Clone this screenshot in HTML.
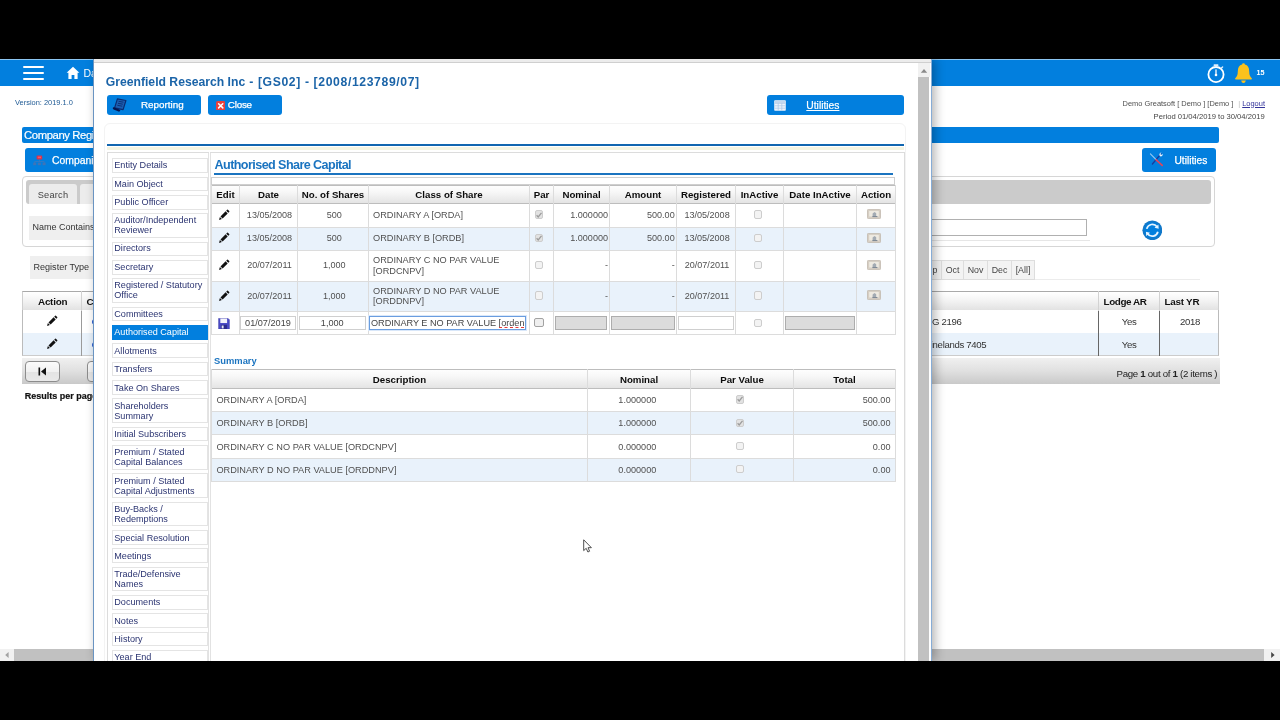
<!DOCTYPE html>
<html>
<head>
<meta charset="utf-8">
<title>Company Register</title>
<style>
*{box-sizing:border-box;margin:0;padding:0}
html,body{width:1280px;height:720px;overflow:hidden;background:#000;font-family:"Liberation Sans",sans-serif;}
.abs{position:absolute}
#screen{will-change:transform;position:absolute;left:0;top:59px;width:1280px;height:602px;background:#fff;overflow:hidden}
/* everything inside #screen uses page coords minus 59 in y: use wrapper shifted */
#pg{position:absolute;left:0;top:-59px;width:1280px;height:720px}
.blue{background:#027fde}
.txt{position:absolute;white-space:nowrap;line-height:1}
/* ---------- background page ---------- */
#nav{left:0;top:59px;width:1280px;height:27px;background:#027fde;border-top:1px solid #8cc6f2}
.hb{left:23px;width:21px;height:2px;background:#fff;border-radius:1px}
#crbar{left:22px;top:127px;width:1197px;height:16px;background:#027fde;border-radius:2px}
.bbtn{background:#027fde;border-radius:3px;color:#fff}
#spanel{left:22px;top:176px;width:1193px;height:71px;border:1px solid #d6d6d6;border-radius:4px;background:#fff}
#tabbar{left:26px;top:180px;width:1185px;height:24px;background:#cbcbcb;border-radius:3px}
.tab{top:184px;height:20px;background:#ececec;border-radius:3px 3px 0 0;color:#444;font-size:9.25px;text-align:center;line-height:22px;letter-spacing:.2px}
.lbl{background:#efefef;color:#333;font-size:9.3px}
.mtab{top:260px;height:20px;border:1px solid #ddd;background:#f3f3f3;color:#444;font-size:8.8px;line-height:18px;text-align:center}
.gh{background:linear-gradient(#ffffff 0%,#f4f4f4 45%,#e2e2e2 100%)}
.bgalt{background:#e9f2fb}
/* ---------- modal ---------- */
#modal{left:93px;top:59px;width:839px;height:602px;background:#fff;border-left:1px solid #6a94c2;border-right:1px solid #86acd6;box-shadow:3px 0 10px rgba(0,0,0,.3);overflow:hidden}
#modal .in{position:absolute;left:-94px;top:-59px;width:1280px;height:720px}
#mtitle{left:94px;top:59px;width:837px;height:4px;background:#ececec;border-bottom:1px solid #cfcfcf}
.mi{position:absolute;left:112px;width:96px;border:1px solid #e4e4e4;color:#2b3471;font-size:9.1px;line-height:10px;padding:1.05px 0 0 1.3px;background:#fff;white-space:nowrap}
.mi.s{height:14.67px}
.mi.d{height:24.67px}
.mi.act{background:#027fde;color:#fff;border-color:#027fde}
table.g{position:absolute;border-collapse:collapse;table-layout:fixed;font-size:8.9px;color:#444}
table.g td,table.g th{border:1px solid #d9d9d9;overflow:hidden;white-space:nowrap;padding:0}
table.g th{font-weight:bold;color:#111;font-size:9.6px;text-align:center}
table.g tr.a td{background:#e9f2fb}
.r{text-align:right}.c{text-align:center}.l{text-align:left}
.cb{display:inline-block;width:8px;height:8px;border:1px solid #c9c9c9;border-radius:2px;background:#f3f3f3;vertical-align:middle;position:relative}
.cb.k{background:#e4e4e4}
.cb.en{border-color:#8a8a8a;background:#fff;width:9px;height:9px}
.ipt{display:inline-block;height:11px;border:1px solid #c4c4c4;background:#fff;vertical-align:middle}
.ipt.dis{background:#dedede;border-color:#a9a9a9}
.gc{font-size:9.05px;color:#505050;white-space:nowrap;overflow:hidden}
.gc.gh2{font-weight:bold;color:#0c0c0c;font-size:9.7px}
.gc.ip{font-size:9.15px;color:#454545}
.gc.sn{font-size:9.1px}
.gc.cl{font-size:9.2px}
.sq{text-decoration:underline;text-decoration-style:wavy;text-decoration-color:#e02020;text-decoration-thickness:1px}
.bh{font-size:9.9px;font-weight:bold;color:#111;letter-spacing:-.25px}
.bc{font-size:9.6px;color:#333;letter-spacing:-.32px}
</style>
</head>
<body>
<div id="screen"><div id="pg">

<!-- ================= BACKGROUND PAGE ================= -->
<div id="nav" class="abs"></div>
<div class="abs hb" style="top:66px"></div>
<div class="abs hb" style="top:72px"></div>
<div class="abs hb" style="top:78px"></div>
<svg class="abs" style="left:66px;top:66px" width="14" height="14" viewBox="0 0 14 14"><path d="M7 0.8 L0.6 6.8 H2.4 V13 H5.6 V9 H8.4 V13 H11.6 V6.8 H13.4 Z" fill="#fff"/></svg>
<div class="txt" id="dash" style="left:83.5px;top:68px;color:#fff;font-size:10.5px">Dashboard</div>

<div class="txt" style="left:15px;top:99px;font-size:7.45px;color:#1f5a94">Version: 2019.1.0</div>

<div id="crbar" class="abs"></div>
<div class="txt" id="creg" style="left:24px;top:129.5px;color:#fff;font-size:11.3px;letter-spacing:-.4px;-webkit-text-stroke:.2px #fff">Company Register</div>

<div class="abs bbtn" style="left:25px;top:148px;width:120px;height:24px"></div>
<svg class="abs" style="left:33px;top:154.5px" width="13" height="12" viewBox="0 0 13 12"><rect x="3.6" y="0.6" width="5.6" height="4" rx="0.8" fill="#d8324a"/><rect x="4.8" y="1.6" width="3.2" height="1.6" fill="#f05a6a"/><path d="M6.4 4.6 V6.6 M1.6 8 V6.6 H11.2 V8" stroke="#3d78bf" stroke-width="0.8" fill="none"/><rect x="0.2" y="7.6" width="3" height="2.6" fill="#3f74b6"/><rect x="4.9" y="7.6" width="3" height="2.6" fill="#3f74b6"/><rect x="9.6" y="7.6" width="3" height="2.6" fill="#3f74b6"/></svg>
<div class="txt" id="comp" style="left:52px;top:155.6px;color:#fff;font-size:10.4px;-webkit-text-stroke:.25px #fff">Companies</div>

<div id="spanel" class="abs"></div>
<div id="tabbar" class="abs"></div>
<div class="abs tab" style="left:29px;width:48px">Search</div>
<div class="abs tab" style="left:80px;width:48px">Filter</div>
<div class="abs lbl" style="left:29px;top:216px;width:80px;height:24px"></div>
<div class="txt" id="nc" style="left:32.5px;top:223px;font-size:9.0px;color:#333">Name Contains</div>
<div class="abs" style="left:100px;top:219px;width:987px;height:17px;border:1px solid #b0b0b0;background:#fff"></div>
<div class="abs" style="left:100px;top:240px;width:990px;height:1px;background:#e6e6e6"></div>

<div class="abs lbl" style="left:30px;top:256px;width:80px;height:23px"></div>
<div class="txt" id="rt" style="left:33.5px;top:263.3px;font-size:9.05px;color:#333">Register Type</div>

<div class="abs" style="left:100px;top:279px;width:1100px;height:1px;background:#ececec"></div>
<div class="abs mtab" style="left:917px;width:25px">Sep</div>
<div class="abs mtab" style="left:941px;width:23px">Oct</div>
<div class="abs mtab" style="left:963px;width:25px">Nov</div>
<div class="abs mtab" style="left:987px;width:25px">Dec</div>
<div class="abs mtab" style="left:1011px;width:24px">[All]</div>

<!-- background grid -->
<div class="abs gh" style="left:22px;top:291px;width:1197px;height:20px;border:1px solid #cfcfcf;border-top-color:#a9a9a9"></div>
<div class="abs" style="left:22px;top:310px;width:1197px;height:23px;background:#fff;border-left:1px solid #bbb;border-right:1px solid #bbb"></div>
<div class="abs bgalt" style="left:22px;top:333px;width:1197px;height:23px;border-left:1px solid #bbb;border-right:1px solid #bbb;border-bottom:1px solid #ccc"></div>
<div class="abs" style="left:81px;top:291px;width:1px;height:20px;background:#d2d2d2"></div>
<div class="abs" style="left:81px;top:311px;width:1px;height:45px;background:#9a9a9a"></div>
<div class="abs" style="left:1098px;top:291px;width:1px;height:20px;background:#d2d2d2"></div>
<div class="abs" style="left:1098px;top:311px;width:1px;height:45px;background:#666"></div>
<div class="abs" style="left:1159px;top:291px;width:1px;height:20px;background:#d2d2d2"></div>
<div class="abs" style="left:1159px;top:311px;width:1px;height:45px;background:#666"></div>
<svg class="abs" style="left:46px;top:314.6px" width="12" height="12" viewBox="0 0 12 12"><path d="M1 11 L1.9 8.1 L3.9 10.1 Z M2.5 7.4 L7.6 2.3 L9.7 4.4 L4.6 9.5 Z M8.2 1.7 L9.1 0.8 Q9.5 0.4 9.9 0.8 L11.2 2.1 Q11.6 2.5 11.2 2.9 L10.3 3.8 Z" fill="#111"/></svg>
<svg class="abs" style="left:46px;top:337.6px" width="12" height="12" viewBox="0 0 12 12"><path d="M1 11 L1.9 8.1 L3.9 10.1 Z M2.5 7.4 L7.6 2.3 L9.7 4.4 L4.6 9.5 Z M8.2 1.7 L9.1 0.8 Q9.5 0.4 9.9 0.8 L11.2 2.1 Q11.6 2.5 11.2 2.9 L10.3 3.8 Z" fill="#111"/></svg>
<div class="txt bh" id="bh1" style="left:38px;top:296.5px">Action</div>
<div class="txt bh" style="left:86.6px;top:296.5px">Code</div>
<div class="txt bc" style="left:91.6px;top:317px;color:#2a5bd0">GS02</div>
<div class="txt bc" style="left:91.6px;top:340px;color:#2a5bd0">GS03</div>
<div class="txt bh" id="bh2" style="left:1103.6px;top:296.5px;letter-spacing:-.42px">Lodge AR</div>
<div class="txt bh" id="bh3" style="left:1164.5px;top:296.5px">Last YR</div>
<div class="txt bc" id="bc1" style="left:932px;top:317px">G 2196</div>
<div class="txt bc" id="bc2" style="left:930.8px;top:340px">inelands 7405</div>
<div class="txt bc" id="bc3" style="left:1121.8px;top:317px">Yes</div>
<div class="txt bc" id="bc4" style="left:1121.8px;top:340px">Yes</div>
<div class="txt bc" id="bc5" style="left:1180px;top:317px">2018</div>

<div class="abs" style="left:22px;top:358px;width:1198px;height:26px;background:linear-gradient(#f0f0f0,#e0e0e0 50%,#c9c9c9)"></div>
<div class="abs" style="left:25px;top:361px;width:35px;height:21px;border:1px solid #8c8c8c;border-radius:4px;background:linear-gradient(#fbfbfb 0%,#f1f1f1 50%,#e3e3e3 51%,#e9e9e9 100%)"></div>
<div class="abs" style="left:87px;top:361px;width:35px;height:21px;border:1px solid #8c8c8c;border-radius:4px;background:linear-gradient(#fbfbfb 0%,#f1f1f1 50%,#e3e3e3 51%,#e9e9e9 100%)"></div>
<svg class="abs" style="left:38px;top:367px" width="9" height="9" viewBox="0 0 9 9"><rect x="0.5" y="0.5" width="1.6" height="8" fill="#111"/><path d="M8 0.5 V8.5 L3 4.5 Z" fill="#111"/></svg>
<div class="txt" id="pgr" style="left:1116.5px;top:369px;font-size:9.7px;letter-spacing:-.31px;color:#222">Page <b>1</b> out of <b>1</b> (2 items )</div>
<div class="txt" id="rpp" style="left:24.7px;top:391.5px;font-size:9.0px;font-weight:bold;color:#111;-webkit-text-stroke:.2px #111">Results per page</div>

<svg class="abs" style="left:1205px;top:62px" width="22" height="23" viewBox="0 0 22 23"><circle cx="11" cy="12.6" r="7.6" fill="none" stroke="#fff" stroke-width="1.8"/><rect x="8.6" y="2.2" width="4.8" height="1.7" rx="0.5" fill="#dfeefc"/><rect x="10.3" y="3.4" width="1.4" height="1.8" fill="#dfeefc"/><path d="M16.2 6.2 L17.6 4.9" stroke="#dfeefc" stroke-width="1.4" stroke-linecap="round"/><path d="M11 7.8 V12.6" stroke="#fff" stroke-width="1.3" stroke-linecap="round"/><circle cx="11" cy="13" r="1.3" fill="#fff"/></svg>
<svg class="abs" style="left:1234px;top:62px" width="19" height="22" viewBox="0 0 19 22"><path d="M9.5 1.2 Q10.9 1.2 10.9 2.6 Q15.2 3.8 15.2 9.4 Q15.2 14 17.8 16.2 Q18.2 17.4 17 17.6 H2 Q0.8 17.4 1.2 16.2 Q3.8 14 3.8 9.4 Q3.8 3.8 8.1 2.6 Q8.1 1.2 9.5 1.2 Z" fill="#fbc21d"/><path d="M7.2 18.4 H11.8 Q11.4 21 9.5 21 Q7.6 21 7.2 18.4 Z" fill="#fbc21d"/></svg>
<div class="txt" id="n15" style="left:1256.6px;top:69px;color:#fff;font-size:7.2px;font-weight:bold">15</div>
<svg class="abs" style="left:1141.6px;top:219.6px" width="20.6" height="20.6" viewBox="0 0 20 20"><circle cx="10" cy="10" r="9.6" fill="#1178c9"/><circle cx="10" cy="10" r="7.6" fill="#027fde"/><path d="M4.6 8.6 A5.6 5.6 0 0 1 14.6 6.6" fill="none" stroke="#e6f4ff" stroke-width="1.7"/><path d="M15.9 4.4 L16.2 8.6 L12.2 7.6 Z" fill="#e6f4ff"/><path d="M15.4 11.4 A5.6 5.6 0 0 1 5.4 13.4" fill="none" stroke="#e6f4ff" stroke-width="1.7"/><path d="M4.1 15.6 L3.8 11.4 L7.8 12.4 Z" fill="#e6f4ff"/></svg>
<!-- right header text -->
<div class="txt" id="usr" style="left:1122.6px;top:99.5px;font-size:7.45px;color:#505050">Demo Greatsoft [ Demo ] [Demo ] &nbsp;<span style="color:#bbb;margin-left:.7px">|</span> <span style="color:#33339a;text-decoration:underline">Logout</span></div>
<div class="txt" id="per" style="left:1153.6px;top:112.8px;font-size:7.64px;color:#444">Period 01/04/2019 to 30/04/2019</div>

<div class="abs bbtn" style="left:1142px;top:148px;width:74px;height:24px"></div>
<svg class="abs" style="left:1149px;top:152px" width="15" height="15" viewBox="0 0 15 15"><path d="M12 1.8 L3.4 12" stroke="#1b3a9c" stroke-width="1.3" stroke-linecap="round"/><path d="M12.4 0.6 Q10 1 10.4 3.6 L11.6 4.6 Q14 4.2 13.6 1.8 L12.2 3 L11.4 2 Z" fill="#e8f2fc"/><path d="M1.4 1.8 L7.6 8.2" stroke="#9ccaf2" stroke-width="1.1" stroke-linecap="round"/><path d="M7.2 7.8 L13.2 13.4" stroke="#e0455a" stroke-width="1.7" stroke-linecap="round"/></svg>
<div class="txt" id="put" style="left:1174.5px;top:155.6px;color:#fff;font-size:10.2px;-webkit-text-stroke:.25px #fff">Utilities</div>

<!-- bottom horizontal scrollbar -->
<div class="abs" style="left:0;top:649px;width:1280px;height:12px;background:#c1c1c1"></div>
<div class="abs" style="left:0;top:649px;width:14px;height:12px;background:#f1f1f1"></div>
<div class="abs" style="left:1264px;top:649px;width:16px;height:12px;background:#f1f1f1"></div>
<svg class="abs" style="left:5px;top:652px" width="4" height="6" viewBox="0 0 4 6"><path d="M3.6 0 V6 L0.2 3 Z" fill="#a3a3a3"/></svg>
<svg class="abs" style="left:1271px;top:652px" width="4" height="6" viewBox="0 0 4 6"><path d="M0.2 0 V6 L3.6 3 Z" fill="#454545"/></svg>

<!-- ================= MODAL ================= -->
<div id="modal" class="abs"><div class="in">
<div id="mtitle" class="abs"></div>
<div class="txt" id="ttl" style="left:105.7px;top:75.5px;font-size:12.2px;font-weight:bold;color:#1b64a8">Greenfield Research Inc<span style="letter-spacing:.62px"> - [GS02] - [2008/123789/07]</span></div>

<div class="abs bbtn" style="left:107px;top:95px;width:94px;height:20px"></div>
<svg class="abs" style="left:112px;top:98.2px" width="15" height="14.4" viewBox="0 0 15 14.4"><path d="M5.4 0.9 L13.9 2.5 L11.1 11.6 L2.6 9.9 Z" fill="#1c5fb2" stroke="#0b2c72" stroke-width="1.2" stroke-linejoin="round"/><path d="M6.6 3.3 L11.4 4.2 M6 5.3 L10.8 6.2 M5.4 7.3 L10.2 8.2" stroke="#0b2c72" stroke-width="0.9" fill="none"/><path d="M0.9 9.6 Q1.4 8.9 2.6 9.6 L8.4 12 Q7.9 13.9 6.6 13.6 L1.6 11.6 Q0.4 10.9 0.9 9.6 Z" fill="#07164f"/></svg>
<div class="txt" id="rep" style="left:141px;top:100px;color:#fff;font-size:9.85px;-webkit-text-stroke:.25px #fff">Reporting</div>
<div class="abs bbtn" style="left:208px;top:95px;width:74px;height:20px"></div>
<svg class="abs" style="left:216px;top:100.5px" width="9.4" height="9.6" viewBox="0 0 9.4 9.6"><rect x="0" y="0" width="9.4" height="9.6" rx="1.6" fill="#e8403c"/><path d="M2.6 2.7 L6.8 6.9 M6.8 2.7 L2.6 6.9" stroke="#fff" stroke-width="1.5" stroke-linecap="round"/></svg>
<div class="txt" id="clo" style="left:227.8px;top:100px;color:#fff;font-size:9.85px;letter-spacing:-.22px;-webkit-text-stroke:.25px #fff">Close</div>
<div class="abs bbtn" style="left:767px;top:95px;width:137px;height:20px"></div>
<svg class="abs" style="left:774px;top:99.6px" width="12" height="11" viewBox="0 0 12 11"><rect x="0.2" y="0.2" width="11.6" height="10.6" rx="0.8" fill="#eef4fb"/><rect x="0.8" y="0.8" width="10.4" height="2.2" fill="#c5d9ef"/><path d="M0.6 3.4 H11.4 M0.6 5.8 H11.4 M0.6 8.2 H11.4 M4.2 3.2 V10.6 M7.8 3.2 V10.6" stroke="#a9c6e6" stroke-width="0.7" fill="none"/></svg>
<div class="txt" id="mut" style="left:806.3px;top:100.6px;color:#fff;font-size:10.3px;text-decoration:underline;-webkit-text-stroke:.2px #fff">Utilities</div>

<!-- content panel -->
<div class="abs" style="left:104px;top:123px;width:802px;height:600px;border:1px solid #f3f3f3;border-radius:6px;background:#fff"></div>
<div class="abs" style="left:107px;top:144px;width:797px;height:2px;background:#1166b0"></div>
<div class="abs" style="left:107px;top:147px;width:797px;height:3px;background:#f4f4e2"></div>
<div class="abs" style="left:107px;top:152px;width:798px;height:600px;border:1px solid #dcdcdc;background:#fff"></div>
<div class="abs" style="left:208px;top:153px;width:3px;height:600px;background:#fff;border-left:1px solid #e2e2e2;border-right:1px solid #e2e2e2"></div>
<div class="abs" style="left:209px;top:152px;width:1px;height:1px;background:#fff"></div>

<!-- side menu -->
<!--MENU--><div id="menu">
<div class="mi s" style="top:158.40px">Entity Details</div>
<div class="mi s" style="top:176.73px">Main Object</div>
<div class="mi s" style="top:195.07px">Public Officer</div>
<div class="mi d" style="top:213.40px">Auditor/Independent<br>Reviewer</div>
<div class="mi s" style="top:241.73px;padding-top:0.45px">Directors</div>
<div class="mi s" style="top:260.06px">Secretary</div>
<div class="mi d" style="top:278.40px">Registered / Statutory<br>Office</div>
<div class="mi s" style="top:306.73px">Committees</div>
<div class="mi s act" style="top:325.06px">Authorised Capital</div>
<div class="mi s" style="top:343.40px;padding-top:1.65px">Allotments</div>
<div class="mi s" style="top:361.73px">Transfers</div>
<div class="mi s" style="top:380.06px;padding-top:1.65px">Take On Shares</div>
<div class="mi d" style="top:398.40px;padding-top:1.65px">Shareholders<br>Summary</div>
<div class="mi s" style="top:426.73px">Initial Subscribers</div>
<div class="mi d" style="top:445.06px">Premium / Stated<br>Capital Balances</div>
<div class="mi d" style="top:473.39px;padding-top:1.65px">Premium / Stated<br>Capital Adjustments</div>
<div class="mi d" style="top:501.73px">Buy-Backs /<br>Redemptions</div>
<div class="mi s" style="top:530.06px;padding-top:1.65px">Special Resolution</div>
<div class="mi s" style="top:548.39px;padding-top:1.65px">Meetings</div>
<div class="mi d" style="top:566.73px">Trade/Defensive<br>Names</div>
<div class="mi s" style="top:595.06px">Documents</div>
<div class="mi s" style="top:613.39px;padding-top:1.65px">Notes</div>
<div class="mi s" style="top:631.73px">History</div>
<div class="mi s" style="top:650.06px">Year End</div>
</div>
<!--/MENU-->

<div class="txt" id="asc" style="left:214.5px;top:159px;font-size:12.6px;font-weight:bold;color:#1b74c0;letter-spacing:-.58px">Authorised Share Capital</div>
<div class="abs" style="left:214px;top:173px;width:679px;height:2px;background:#1b74c0"></div>
<div class="abs" style="left:211px;top:177px;width:684px;height:8px;border:1px solid #cfcfcf;background:#fff"></div>

<!--GRIDS--><div id="grids">
<div class="abs" style="left:211px;top:185px;width:684px;height:18px;background:linear-gradient(#ffffff 0%,#f7f7f7 40%,#e4e4e4 100%)"></div>
<div class="abs" style="left:211px;top:203px;width:684px;height:24px;background:#fff"></div>
<div class="abs" style="left:211px;top:227px;width:684px;height:23px;background:#e9f2fb"></div>
<div class="abs" style="left:211px;top:250px;width:684px;height:31px;background:#fff"></div>
<div class="abs" style="left:211px;top:281px;width:684px;height:30px;background:#e9f2fb"></div>
<div class="abs" style="left:211px;top:311px;width:684px;height:23px;background:#fff"></div>
<div class="abs" style="left:211px;top:185px;width:685px;height:1px;background:#bdbdbd"></div>
<div class="abs" style="left:211px;top:203px;width:685px;height:1px;background:#bdbdbd"></div>
<div class="abs" style="left:211px;top:227px;width:685px;height:1px;background:#dcdcdc"></div>
<div class="abs" style="left:211px;top:250px;width:685px;height:1px;background:#dcdcdc"></div>
<div class="abs" style="left:211px;top:281px;width:685px;height:1px;background:#dcdcdc"></div>
<div class="abs" style="left:211px;top:311px;width:685px;height:1px;background:#dcdcdc"></div>
<div class="abs" style="left:211px;top:334px;width:685px;height:1px;background:#dcdcdc"></div>
<div class="abs" style="left:211px;top:185px;width:1px;height:150px;background:#dcdcdc"></div>
<div class="abs" style="left:239px;top:185px;width:1px;height:150px;background:#dcdcdc"></div>
<div class="abs" style="left:297px;top:185px;width:1px;height:150px;background:#dcdcdc"></div>
<div class="abs" style="left:368px;top:185px;width:1px;height:150px;background:#dcdcdc"></div>
<div class="abs" style="left:529px;top:185px;width:1px;height:150px;background:#dcdcdc"></div>
<div class="abs" style="left:553px;top:185px;width:1px;height:150px;background:#dcdcdc"></div>
<div class="abs" style="left:609px;top:185px;width:1px;height:150px;background:#dcdcdc"></div>
<div class="abs" style="left:676px;top:185px;width:1px;height:150px;background:#dcdcdc"></div>
<div class="abs" style="left:735px;top:185px;width:1px;height:150px;background:#dcdcdc"></div>
<div class="abs" style="left:783px;top:185px;width:1px;height:150px;background:#dcdcdc"></div>
<div class="abs" style="left:856px;top:185px;width:1px;height:150px;background:#dcdcdc"></div>
<div class="abs" style="left:895px;top:185px;width:1px;height:150px;background:#dcdcdc"></div>
<div class="abs gc gh2" style="left:212px;top:188.8px;width:27px;height:12px;line-height:12px;text-align:center;">Edit</div>
<div class="abs gc gh2" style="left:240px;top:188.8px;width:57px;height:12px;line-height:12px;text-align:center;">Date</div>
<div class="abs gc gh2" style="left:298px;top:188.8px;width:70px;height:12px;line-height:12px;text-align:center;">No. of Shares</div>
<div class="abs gc gh2" style="left:369px;top:188.8px;width:160px;height:12px;line-height:12px;text-align:center;">Class of Share</div>
<div class="abs gc gh2" style="left:530px;top:188.8px;width:23px;height:12px;line-height:12px;text-align:center;">Par</div>
<div class="abs gc gh2" style="left:554px;top:188.8px;width:55px;height:12px;line-height:12px;text-align:center;">Nominal</div>
<div class="abs gc gh2" style="left:610px;top:188.8px;width:66px;height:12px;line-height:12px;text-align:center;">Amount</div>
<div class="abs gc gh2" style="left:677px;top:188.8px;width:58px;height:12px;line-height:12px;text-align:center;">Registered</div>
<div class="abs gc gh2" style="left:736px;top:188.8px;width:47px;height:12px;line-height:12px;text-align:center;">InActive</div>
<div class="abs gc gh2" style="left:784px;top:188.8px;width:72px;height:12px;line-height:12px;text-align:center;">Date InActive</div>
<div class="abs gc gh2" style="left:857px;top:188.8px;width:38px;height:12px;line-height:12px;text-align:center;">Action</div>
<svg class="abs" style="left:218.4px;top:209.2px" width="12" height="12" viewBox="0 0 12 12"><path d="M1 11 L1.9 8.1 L3.9 10.1 Z M2.5 7.4 L7.6 2.3 L9.7 4.4 L4.6 9.5 Z M8.2 1.7 L9.1 0.8 Q9.5 0.4 9.9 0.8 L11.2 2.1 Q11.6 2.5 11.2 2.9 L10.3 3.8 Z" fill="#111"/></svg>
<div class="abs gc " style="left:240px;top:208.8px;width:59px;height:12px;line-height:12px;text-align:center;">13/05/2008</div>
<div class="abs gc " style="left:298px;top:208.8px;width:72.4px;height:12px;line-height:12px;text-align:center;">500</div>
<div class="abs gc cl" style="left:373px;top:208.8px;width:150px;height:12px;line-height:12px;text-align:left;">ORDINARY A [ORDA]</div>
<div class="abs" style="left:534.8px;top:210.3px;width:8.4px;height:8.4px;border:1px solid #cdcdcd;border-radius:2px;background:#e2e2e2"></div>
<svg class="abs" style="left:535px;top:210.5px" width="8" height="8" viewBox="0 0 8 8"><path d="M1.6 4.2 L3.2 5.9 L6.5 1.9" fill="none" stroke="#9c9c9c" stroke-width="1.3"/></svg>
<div class="abs gc " style="left:554px;top:208.8px;width:54px;height:12px;line-height:12px;text-align:right;">1.000000</div>
<div class="abs gc " style="left:610px;top:208.8px;width:64.7px;height:12px;line-height:12px;text-align:right;">500.00</div>
<div class="abs gc " style="left:681.3px;top:208.8px;width:51.5px;height:12px;line-height:12px;text-align:center;">13/05/2008</div>
<div class="abs" style="left:753.6px;top:210.3px;width:8.4px;height:8.4px;border:1px solid #cdcdcd;border-radius:2px;background:#f3f3f3"></div>
<svg class="abs" style="left:867.2px;top:209.3px" width="14" height="10" viewBox="0 0 14 10"><rect x="0.4" y="0.4" width="13.2" height="9.2" rx="1" fill="#d9d1c6" stroke="#bfb6ab" stroke-width="0.8"/><rect x="1.9" y="1.7" width="10.2" height="6.2" fill="#eeeae1" stroke="#cfc7bb" stroke-width="0.5"/><path d="M5.6 7.4 V4.4 L7.6 2.9 L9.2 4.2 V7.4 Z" fill="#a3abb3"/><rect x="5.4" y="7" width="5" height="1.1" fill="#7f8a96"/></svg>
<svg class="abs" style="left:218.4px;top:232.3px" width="12" height="12" viewBox="0 0 12 12"><path d="M1 11 L1.9 8.1 L3.9 10.1 Z M2.5 7.4 L7.6 2.3 L9.7 4.4 L4.6 9.5 Z M8.2 1.7 L9.1 0.8 Q9.5 0.4 9.9 0.8 L11.2 2.1 Q11.6 2.5 11.2 2.9 L10.3 3.8 Z" fill="#111"/></svg>
<div class="abs gc " style="left:240px;top:232px;width:59px;height:12px;line-height:12px;text-align:center;">13/05/2008</div>
<div class="abs gc " style="left:298px;top:232px;width:72.4px;height:12px;line-height:12px;text-align:center;">500</div>
<div class="abs gc cl" style="left:373px;top:232px;width:150px;height:12px;line-height:12px;text-align:left;">ORDINARY B [ORDB]</div>
<div class="abs" style="left:534.8px;top:233.7px;width:8.4px;height:8.4px;border:1px solid #cdcdcd;border-radius:2px;background:#e2e2e2"></div>
<svg class="abs" style="left:535px;top:233.9px" width="8" height="8" viewBox="0 0 8 8"><path d="M1.6 4.2 L3.2 5.9 L6.5 1.9" fill="none" stroke="#9c9c9c" stroke-width="1.3"/></svg>
<div class="abs gc " style="left:554px;top:232px;width:54px;height:12px;line-height:12px;text-align:right;">1.000000</div>
<div class="abs gc " style="left:610px;top:232px;width:64.7px;height:12px;line-height:12px;text-align:right;">500.00</div>
<div class="abs gc " style="left:681.3px;top:232px;width:51.5px;height:12px;line-height:12px;text-align:center;">13/05/2008</div>
<div class="abs" style="left:753.6px;top:233.7px;width:8.4px;height:8.4px;border:1px solid #cdcdcd;border-radius:2px;background:#f3f3f3"></div>
<svg class="abs" style="left:867.2px;top:232.5px" width="14" height="10" viewBox="0 0 14 10"><rect x="0.4" y="0.4" width="13.2" height="9.2" rx="1" fill="#d9d1c6" stroke="#bfb6ab" stroke-width="0.8"/><rect x="1.9" y="1.7" width="10.2" height="6.2" fill="#eeeae1" stroke="#cfc7bb" stroke-width="0.5"/><path d="M5.6 7.4 V4.4 L7.6 2.9 L9.2 4.2 V7.4 Z" fill="#a3abb3"/><rect x="5.4" y="7" width="5" height="1.1" fill="#7f8a96"/></svg>
<svg class="abs" style="left:218.4px;top:259px" width="12" height="12" viewBox="0 0 12 12"><path d="M1 11 L1.9 8.1 L3.9 10.1 Z M2.5 7.4 L7.6 2.3 L9.7 4.4 L4.6 9.5 Z M8.2 1.7 L9.1 0.8 Q9.5 0.4 9.9 0.8 L11.2 2.1 Q11.6 2.5 11.2 2.9 L10.3 3.8 Z" fill="#111"/></svg>
<div class="abs gc " style="left:240px;top:258.7px;width:59px;height:12px;line-height:12px;text-align:center;">20/07/2011</div>
<div class="abs gc " style="left:298px;top:258.7px;width:72.4px;height:12px;line-height:12px;text-align:center;">1,000</div>
<div class="abs gc cl" style="left:373px;top:254px;width:150px;height:12px;line-height:12px;text-align:left;">ORDINARY C NO PAR VALUE</div>
<div class="abs gc cl" style="left:373px;top:265px;width:150px;height:12px;line-height:12px;text-align:left;">[ORDCNPV]</div>
<div class="abs" style="left:534.8px;top:260.6px;width:8.4px;height:8.4px;border:1px solid #cdcdcd;border-radius:2px;background:#f3f3f3"></div>
<div class="abs gc " style="left:554px;top:258.7px;width:54px;height:12px;line-height:12px;text-align:right;">-</div>
<div class="abs gc " style="left:610px;top:258.7px;width:64.7px;height:12px;line-height:12px;text-align:right;">-</div>
<div class="abs gc " style="left:681.3px;top:258.7px;width:51.5px;height:12px;line-height:12px;text-align:center;">20/07/2011</div>
<div class="abs" style="left:753.6px;top:260.6px;width:8.4px;height:8.4px;border:1px solid #cdcdcd;border-radius:2px;background:#f3f3f3"></div>
<svg class="abs" style="left:867.2px;top:259.8px" width="14" height="10" viewBox="0 0 14 10"><rect x="0.4" y="0.4" width="13.2" height="9.2" rx="1" fill="#d9d1c6" stroke="#bfb6ab" stroke-width="0.8"/><rect x="1.9" y="1.7" width="10.2" height="6.2" fill="#eeeae1" stroke="#cfc7bb" stroke-width="0.5"/><path d="M5.6 7.4 V4.4 L7.6 2.9 L9.2 4.2 V7.4 Z" fill="#a3abb3"/><rect x="5.4" y="7" width="5" height="1.1" fill="#7f8a96"/></svg>
<svg class="abs" style="left:218.4px;top:289.5px" width="12" height="12" viewBox="0 0 12 12"><path d="M1 11 L1.9 8.1 L3.9 10.1 Z M2.5 7.4 L7.6 2.3 L9.7 4.4 L4.6 9.5 Z M8.2 1.7 L9.1 0.8 Q9.5 0.4 9.9 0.8 L11.2 2.1 Q11.6 2.5 11.2 2.9 L10.3 3.8 Z" fill="#111"/></svg>
<div class="abs gc " style="left:240px;top:289.6px;width:59px;height:12px;line-height:12px;text-align:center;">20/07/2011</div>
<div class="abs gc " style="left:298px;top:289.6px;width:72.4px;height:12px;line-height:12px;text-align:center;">1,000</div>
<div class="abs gc cl" style="left:373px;top:285px;width:150px;height:12px;line-height:12px;text-align:left;">ORDINARY D NO PAR VALUE</div>
<div class="abs gc cl" style="left:373px;top:295px;width:150px;height:12px;line-height:12px;text-align:left;">[ORDDNPV]</div>
<div class="abs" style="left:534.8px;top:291.4px;width:8.4px;height:8.4px;border:1px solid #cdcdcd;border-radius:2px;background:#f3f3f3"></div>
<div class="abs gc " style="left:554px;top:289.6px;width:54px;height:12px;line-height:12px;text-align:right;">-</div>
<div class="abs gc " style="left:610px;top:289.6px;width:64.7px;height:12px;line-height:12px;text-align:right;">-</div>
<div class="abs gc " style="left:681.3px;top:289.6px;width:51.5px;height:12px;line-height:12px;text-align:center;">20/07/2011</div>
<div class="abs" style="left:753.6px;top:291.4px;width:8.4px;height:8.4px;border:1px solid #cdcdcd;border-radius:2px;background:#f3f3f3"></div>
<svg class="abs" style="left:867.2px;top:290.4px" width="14" height="10" viewBox="0 0 14 10"><rect x="0.4" y="0.4" width="13.2" height="9.2" rx="1" fill="#d9d1c6" stroke="#bfb6ab" stroke-width="0.8"/><rect x="1.9" y="1.7" width="10.2" height="6.2" fill="#eeeae1" stroke="#cfc7bb" stroke-width="0.5"/><path d="M5.6 7.4 V4.4 L7.6 2.9 L9.2 4.2 V7.4 Z" fill="#a3abb3"/><rect x="5.4" y="7" width="5" height="1.1" fill="#7f8a96"/></svg>
<svg class="abs" style="left:218.2px;top:317.6px" width="12" height="11.6" viewBox="0 0 12 12"><path d="M0.4 0.4 H10.2 L11.6 1.8 V11.6 H0.4 Z" fill="#4a4ac6" stroke="#3a3aa8" stroke-width="0.5"/><rect x="2.2" y="0.6" width="7" height="4.6" fill="#f3f3fb"/><rect x="2.8" y="7" width="6.4" height="4.6" fill="#2c2c8c"/><rect x="3.6" y="7.8" width="2" height="3" fill="#e4e4f6"/></svg>
<div class="abs gc ip" style="left:240.3px;top:316.4px;width:55.3px;height:13.4px;line-height:13px;text-align:center;padding:0 0px;border:1px solid #cfcfcf;background:#fff">01/07/2019</div>
<div class="abs gc ip" style="left:298.6px;top:316.4px;width:67.4px;height:13.4px;line-height:13px;text-align:center;padding:0 0px;border:1px solid #cfcfcf;background:#fff">1,000</div>
<div class="abs gc ip" style="left:369px;top:316.4px;width:156.6px;height:13.4px;line-height:13px;text-align:left;padding:0 1px;border:1px solid #6a9ddf;outline:1px solid #d9e7f9;background:#fff">ORDINARY E NO PAR VALUE [orden</div>
<div class="abs" style="left:534.4px;top:318.3px;width:9.2px;height:9.2px;border:1px solid #a2a2a2;border-radius:2px;background:#efefef"></div>
<div class="abs gc ip" style="left:554.6px;top:316.4px;width:52.4px;height:13.4px;line-height:13px;text-align:left;padding:0 0px;border:1px solid #adadad;background:#dcdcdc"></div>
<div class="abs gc ip" style="left:611px;top:316.4px;width:63.7px;height:13.4px;line-height:13px;text-align:left;padding:0 0px;border:1px solid #adadad;background:#dcdcdc"></div>
<div class="abs gc ip" style="left:677.6px;top:316.4px;width:56px;height:13.4px;line-height:13px;text-align:left;padding:0 0px;border:1px solid #cfcfcf;background:#fff"></div>
<div class="abs" style="left:753.5px;top:318.7px;width:8.4px;height:8.4px;border:1px solid #cdcdcd;border-radius:2px;background:#f3f3f3"></div>
<div class="abs gc ip" style="left:785px;top:316.4px;width:69.7px;height:13.4px;line-height:13px;text-align:left;padding:0 0px;border:1px solid #adadad;background:#dcdcdc"></div>
<div class="abs" style="left:499px;top:326.6px;width:25px;height:1px;border-top:1px dashed #e23a3a"></div>
<div class="abs" style="left:211px;top:369px;width:684px;height:19px;background:linear-gradient(#ffffff 0%,#f7f7f7 40%,#e4e4e4 100%)"></div>
<div class="abs" style="left:211px;top:388px;width:684px;height:23px;background:#fff"></div>
<div class="abs" style="left:211px;top:411px;width:684px;height:23px;background:#e9f2fb"></div>
<div class="abs" style="left:211px;top:434px;width:684px;height:24px;background:#fff"></div>
<div class="abs" style="left:211px;top:458px;width:684px;height:23px;background:#e9f2fb"></div>
<div class="abs" style="left:211px;top:369px;width:685px;height:1px;background:#bdbdbd"></div>
<div class="abs" style="left:211px;top:388px;width:685px;height:1px;background:#bdbdbd"></div>
<div class="abs" style="left:211px;top:411px;width:685px;height:1px;background:#dcdcdc"></div>
<div class="abs" style="left:211px;top:434px;width:685px;height:1px;background:#dcdcdc"></div>
<div class="abs" style="left:211px;top:458px;width:685px;height:1px;background:#dcdcdc"></div>
<div class="abs" style="left:211px;top:481px;width:685px;height:1px;background:#dcdcdc"></div>
<div class="abs" style="left:211px;top:369px;width:1px;height:113px;background:#dcdcdc"></div>
<div class="abs" style="left:587px;top:369px;width:1px;height:113px;background:#dcdcdc"></div>
<div class="abs" style="left:690px;top:369px;width:1px;height:113px;background:#dcdcdc"></div>
<div class="abs" style="left:793px;top:369px;width:1px;height:113px;background:#dcdcdc"></div>
<div class="abs" style="left:895px;top:369px;width:1px;height:113px;background:#dcdcdc"></div>
<div class="abs gc gh2" style="left:212px;top:373.6px;width:375px;height:12px;line-height:12px;text-align:center;">Description</div>
<div class="abs gc gh2" style="left:588px;top:373.6px;width:102px;height:12px;line-height:12px;text-align:center;">Nominal</div>
<div class="abs gc gh2" style="left:691px;top:373.6px;width:102px;height:12px;line-height:12px;text-align:center;">Par Value</div>
<div class="abs gc gh2" style="left:794px;top:373.6px;width:101px;height:12px;line-height:12px;text-align:center;">Total</div>
<div class="abs gc cl" style="left:216.4px;top:394px;width:360px;height:12px;line-height:12px;text-align:left;">ORDINARY A [ORDA]</div>
<div class="abs gc sn" style="left:588px;top:394px;width:98.6px;height:12px;line-height:12px;text-align:center;">1.000000</div>
<div class="abs" style="left:735.6px;top:395.2px;width:8.4px;height:8.4px;border:1px solid #cdcdcd;border-radius:2px;background:#e2e2e2"></div>
<svg class="abs" style="left:735.8px;top:395.4px" width="8" height="8" viewBox="0 0 8 8"><path d="M1.6 4.2 L3.2 5.9 L6.5 1.9" fill="none" stroke="#9c9c9c" stroke-width="1.3"/></svg>
<div class="abs gc sn" style="left:794px;top:394px;width:96.5px;height:12px;line-height:12px;text-align:right;">500.00</div>
<div class="abs gc cl" style="left:216.4px;top:417px;width:360px;height:12px;line-height:12px;text-align:left;">ORDINARY B [ORDB]</div>
<div class="abs gc sn" style="left:588px;top:417px;width:98.6px;height:12px;line-height:12px;text-align:center;">1.000000</div>
<div class="abs" style="left:735.6px;top:418.8px;width:8.4px;height:8.4px;border:1px solid #cdcdcd;border-radius:2px;background:#e2e2e2"></div>
<svg class="abs" style="left:735.8px;top:419px" width="8" height="8" viewBox="0 0 8 8"><path d="M1.6 4.2 L3.2 5.9 L6.5 1.9" fill="none" stroke="#9c9c9c" stroke-width="1.3"/></svg>
<div class="abs gc sn" style="left:794px;top:417px;width:96.5px;height:12px;line-height:12px;text-align:right;">500.00</div>
<div class="abs gc cl" style="left:216.4px;top:441px;width:360px;height:12px;line-height:12px;text-align:left;">ORDINARY C NO PAR VALUE [ORDCNPV]</div>
<div class="abs gc sn" style="left:588px;top:441px;width:98.6px;height:12px;line-height:12px;text-align:center;">0.000000</div>
<div class="abs" style="left:735.6px;top:442px;width:8.4px;height:8.4px;border:1px solid #cdcdcd;border-radius:2px;background:#f3f3f3"></div>
<div class="abs gc sn" style="left:794px;top:441px;width:96.5px;height:12px;line-height:12px;text-align:right;">0.00</div>
<div class="abs gc cl" style="left:216.4px;top:464px;width:360px;height:12px;line-height:12px;text-align:left;">ORDINARY D NO PAR VALUE [ORDDNPV]</div>
<div class="abs gc sn" style="left:588px;top:464px;width:98.6px;height:12px;line-height:12px;text-align:center;">0.000000</div>
<div class="abs" style="left:735.6px;top:465.1px;width:8.4px;height:8.4px;border:1px solid #cdcdcd;border-radius:2px;background:#f3f3f3"></div>
<div class="abs gc sn" style="left:794px;top:464px;width:96.5px;height:12px;line-height:12px;text-align:right;">0.00</div>
</div>
<!--/GRIDS-->

<div class="txt" style="left:214px;top:356px;font-size:9.4px;font-weight:bold;color:#1b74c0">Summary</div>

<!-- mouse cursor -->
<svg class="abs" style="left:582.6px;top:538.6px;z-index:50" width="10" height="14" viewBox="0 0 10 14"><path d="M0.7 0.8 V11.6 L3.2 9.3 L4.9 13 L6.6 12.2 L5 8.7 H8.4 Z" fill="#fff" stroke="#3c3c3c" stroke-width="0.9" stroke-linejoin="round"/></svg>
<!-- modal scrollbar -->
<div class="abs" style="left:918px;top:63px;width:11px;height:600px;background:#c1c1c1"></div>
<div class="abs" style="left:917.5px;top:63px;width:12px;height:13.5px;background:#f1f1f1"></div>
<svg class="abs" style="left:919.8px;top:67.6px" width="8" height="6" viewBox="0 0 8 6"><path d="M4 1 L7.2 4.8 H0.8 Z" fill="#8a8a8a"/></svg>
</div></div>

</div></div>
</body>
</html>
